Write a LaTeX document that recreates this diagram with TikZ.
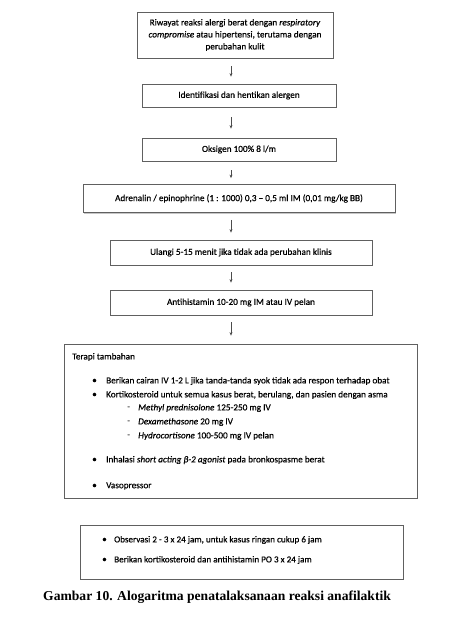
\documentclass[tikz,border=0pt]{standalone}
\usepackage{fontspec}
\setmainfont{Carlito}[FakeBold=0.4]
\newfontfamily\capfont{Liberation Serif}
\usetikzlibrary{arrows.meta,shadows}
\begin{document}
\begin{tikzpicture}[x=1pt,y=-1pt,
  box/.style={draw=gray!75!black, line width=0.8pt, fill=white, inner sep=0pt,
    drop shadow={shadow xshift=1.2pt, shadow yshift=-1.2pt, fill=gray!45, opacity=1},
    align=center, font=\fontsize{9.2}{12}\selectfont},
  txt/.style={anchor=west, inner sep=0pt, font=\fontsize{9.2}{12}\selectfont},
  txts/.style={anchor=west, inner sep=0pt, font=\fontsize{9.1}{12}\selectfont},
  arr/.style={draw=gray!60!black, line width=0.6pt, -{Stealth[length=3.5pt,width=3pt]}}]
\useasboundingbox (0,0) rectangle (452,640);
\fill[white] (0,0) rectangle (452,640);
\coordinate (ax) at (231,0);
\node[box, minimum width=196pt, minimum height=46pt] (b1) at (235,35)
  {Riwayat reaksi alergi berat dengan \textit{respiratory}\\\textit{compromise} atau hipertensi, terutama dengan\\perubahan kulit};
\node[box, minimum width=194pt, minimum height=23pt] (b2) at (239,95.5) {Identifikasi dan hentikan alergen};
\node[box, minimum width=194pt, minimum height=23pt] (b3) at (239,149.5) {Oksigen 100\% 8 l/m};
\node[box, minimum width=312pt, minimum height=28pt] (b4) at (239,198.5) {Adrenalin / epinophrine (1 : 1000) 0,3 – 0,5 ml IM (0,01 mg/kg BB)};
\node[box, minimum width=262pt, minimum height=25pt] (b5) at (241,252.5) {Ulangi 5-15 menit jika tidak ada perubahan klinis};
\node[box, minimum width=262pt, minimum height=25pt] (b6) at (241,302.5) {Antihistamin 10-20 mg IM atau IV pelan};
\node[box, minimum width=353pt, minimum height=154pt] (b7) at (240.5,421) {};
\node[box, minimum width=323pt, minimum height=54pt] (b8) at (241.5,552) {};
\draw[arr, shorten <=8pt, shorten >=7pt] (b1.south -| ax) -- (b2.north -| ax);
\draw[arr, shorten <=10pt, shorten >=9pt] (b2.south -| ax) -- (b3.north -| ax);
\draw[arr, shorten <=9pt, shorten >=6pt] (b3.south -| ax) -- (b4.north -| ax);
\draw[arr, shorten <=7pt, shorten >=7pt] (b4.south -| ax) -- (b5.north -| ax);
\draw[arr, shorten <=7pt, shorten >=7pt] (b5.south -| ax) -- (b6.north -| ax);
\draw[arr, shorten <=7pt, shorten >=8pt] (b6.south -| ax) -- (b7.north -| ax);
% box 7 content
\node[txt] (t0) at (72,357) {Terapi tambahan};
\node[txt] (p1) at (92,381) {•};
\node[txt] (t1) at (106,381) {Berikan cairan IV 1-2 L jika tanda-tanda syok tidak ada respon terhadap obat};
\node[txt] (p2) at (92,395) {•};
\node[txt] (t2) at (106,395) {Kortikosteroid untuk semua kasus berat, berulang, dan pasien dengan asma};
\node[txt] (d1) at (127,408) {-};
\node[txt] (s1) at (138,408) {\textit{Methyl prednisolone} 125-250 mg IV};
\node[txt] (d2) at (127,422) {-};
\node[txt] (s2) at (138,422) {\textit{Dexamethasone} 20 mg IV};
\node[txt] (d3) at (127,436) {-};
\node[txt] (s3) at (138,436) {\textit{Hydrocortisone} 100-500 mg IV pelan};
\node[txt] (p3) at (92,460) {•};
\node[txt] (t3) at (106,460) {Inhalasi \textit{short acting β-2 agonist} pada bronkospasme berat};
\node[txt] (p4) at (92,486) {•};
\node[txt] (t4) at (106,486) {Vasopressor};
% box 8 content
\node[txts] (q1) at (102,540) {•};
\node[txts] (u1) at (114,540) {Observasi 2 - 3 x 24 jam, untuk kasus ringan cukup 6 jam};
\node[txts] (q2) at (102,560) {•};
\node[txts] (u2) at (114,560) {Berikan kortikosteroid dan antihistamin PO 3 x 24 jam};
% caption
\node[anchor=west, inner sep=0pt, font=\capfont\bfseries\fontsize{13.6}{15}\selectfont] (cap) at (43,597)
  {Gambar 10. Alogaritma penatalaksanaan reaksi anafilaktik};
\end{tikzpicture}
\end{document}
